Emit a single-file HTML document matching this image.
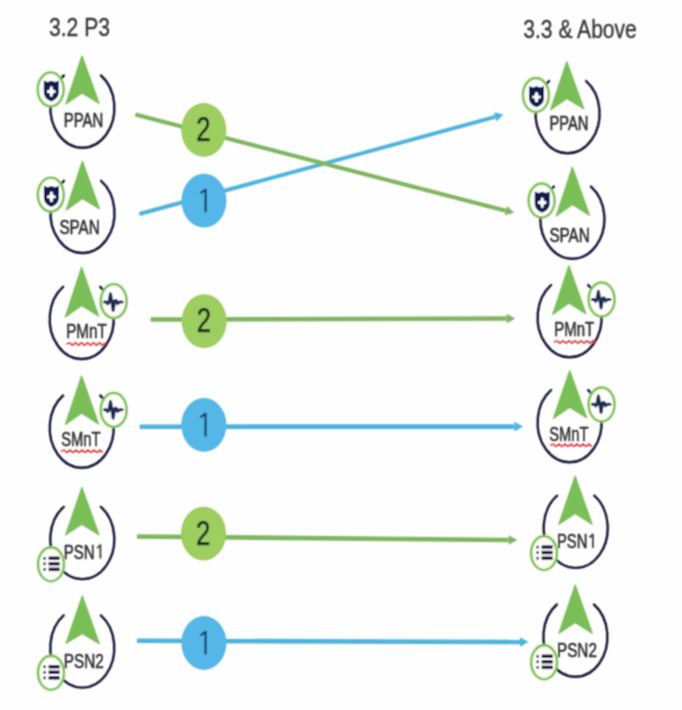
<!DOCTYPE html>
<html><head><meta charset="utf-8"><style>
html,body{margin:0;padding:0;background:#fff;width:682px;height:710px;overflow:hidden}
svg{display:block}
text{font-family:"Liberation Sans",sans-serif}
</style></head><body>
<svg width="682" height="710" viewBox="0 0 682 710">
<defs><filter id="bl" x="-5%" y="-5%" width="110%" height="110%"><feConvolveMatrix order="3" kernelMatrix="1 2 1 2 4 2 1 2 1" divisor="16" edgeMode="none" preserveAlpha="false"/></filter></defs>
<rect width="682" height="710" fill="#fefefe"/>
<g filter="url(#bl)">
<line x1="139.4" y1="214" x2="495.2" y2="116.8" stroke="#4fb3dc" stroke-width="3.9" stroke-linecap="butt"/><path d="M503.4,114.6 L496.5,121.5 L493.9,112.2 Z" fill="#4fb3dc"/><line x1="135.3" y1="114.6" x2="505.8" y2="210.7" stroke="#80b660" stroke-width="4.1" stroke-linecap="butt"/><path d="M514,212.8 L504.6,215.3 L507.0,206.0 Z" fill="#80b660"/><line x1="150.6" y1="319.5" x2="506.7" y2="318.5" stroke="#80b660" stroke-width="4.6" stroke-linecap="butt"/><path d="M515.2,318.5 L506.7,323.3 L506.7,313.7 Z" fill="#80b660"/><line x1="139.7" y1="426.7" x2="514.4" y2="426.6" stroke="#4fb3dc" stroke-width="4.6" stroke-linecap="butt"/><path d="M522.9,426.6 L514.4,431.4 L514.4,421.8 Z" fill="#4fb3dc"/><line x1="137" y1="536.5" x2="508.7" y2="540.0" stroke="#80b660" stroke-width="4.6" stroke-linecap="butt"/><path d="M517.2,540.1 L508.7,544.8 L508.7,535.2 Z" fill="#80b660"/><line x1="137" y1="640.8" x2="520.0" y2="642.0" stroke="#4fb3dc" stroke-width="4.6" stroke-linecap="butt"/><path d="M528.5,642 L520.0,646.8 L520.0,637.2 Z" fill="#4fb3dc"/><ellipse cx="203.8" cy="130" rx="22.5" ry="26.9" fill="#9ecd60"/><text x="203.50" y="140.90" font-size="35" fill="#1d3322" stroke="#1d3322" stroke-width="0.7" text-anchor="middle" textLength="14.30" lengthAdjust="spacingAndGlyphs">2</text><ellipse cx="204" cy="200.7" rx="22.5" ry="26.9" fill="#55b6e8"/><path d="M200.4,193.2 L205.6,189.5 V212.2" fill="none" stroke="#173a5a" stroke-width="2.1" stroke-linejoin="round"/><ellipse cx="204.2" cy="321.2" rx="22.5" ry="26.9" fill="#9ecd60"/><text x="203.90" y="332.10" font-size="35" fill="#1d3322" stroke="#1d3322" stroke-width="0.7" text-anchor="middle" textLength="14.30" lengthAdjust="spacingAndGlyphs">2</text><ellipse cx="203.9" cy="424.9" rx="22.5" ry="26.9" fill="#55b6e8"/><path d="M200.3,417.4 L205.5,413.7 V436.4" fill="none" stroke="#173a5a" stroke-width="2.1" stroke-linejoin="round"/><ellipse cx="203.5" cy="533.6" rx="22.5" ry="26.9" fill="#9ecd60"/><text x="203.20" y="544.50" font-size="35" fill="#1d3322" stroke="#1d3322" stroke-width="0.7" text-anchor="middle" textLength="14.30" lengthAdjust="spacingAndGlyphs">2</text><ellipse cx="203.9" cy="643" rx="22.5" ry="26.9" fill="#55b6e8"/><path d="M200.3,635.5 L205.5,631.8 V654.5" fill="none" stroke="#173a5a" stroke-width="2.1" stroke-linejoin="round"/><path d="M63.8,75.5 A32,39.8 0 1 0 101.0,75.5" fill="none" stroke="#17153a" stroke-width="2.4" stroke-linecap="round"/><path d="M82.0,56.0 L99.0,103.3 L82.0,93.0 L65.8,104.1 Z" fill="#7abe58" stroke="#7abe58" stroke-width="1.2" stroke-linejoin="round"/><ellipse cx="50.7" cy="89.4" rx="12.9" ry="16.9" fill="#fff" stroke="#80c456" stroke-width="2.6"/><path d="M43.8,80.4 L47.6,82.0 L51.3,80.7 L55.1,82.0 L58.8,80.4 L58.8,92.6 C58.8,97.5 54.3,100.5 51.3,101.5 C48.3,100.5 43.8,97.5 43.8,92.6 Z" fill="#0f1f4e"/><path d="M51.3,87.8 V95.2 M48.4,91.5 H54.2" stroke="#fff" stroke-width="3" stroke-linecap="round"/><text x="83.45" y="126.90" font-size="20" fill="#2f2f2f" stroke="#2f2f2f" stroke-width="0.55" text-anchor="middle" textLength="39.50" lengthAdjust="spacingAndGlyphs">PPAN</text><path d="M63.9,180.8 A32,39.8 0 1 0 101.1,180.8" fill="none" stroke="#17153a" stroke-width="2.4" stroke-linecap="round"/><path d="M82.4,161.3 L99.4,208.8 L82.4,198.6 L66.2,210.1 Z" fill="#7abe58" stroke="#7abe58" stroke-width="1.2" stroke-linejoin="round"/><ellipse cx="50.8" cy="194.7" rx="12.9" ry="16.9" fill="#fff" stroke="#80c456" stroke-width="2.6"/><path d="M43.9,185.7 L47.6,187.3 L51.4,186.0 L55.1,187.3 L58.9,185.7 L58.9,197.9 C58.9,202.8 54.4,205.8 51.4,206.8 C48.4,205.8 43.9,202.8 43.9,197.9 Z" fill="#0f1f4e"/><path d="M51.4,193.1 V200.5 M48.5,196.8 H54.3" stroke="#fff" stroke-width="3" stroke-linecap="round"/><text x="79.55" y="234.30" font-size="20" fill="#2f2f2f" stroke="#2f2f2f" stroke-width="0.55" text-anchor="middle" textLength="40.30" lengthAdjust="spacingAndGlyphs">SPAN</text><path d="M63.1,286.8 A32,39.8 0 1 0 100.3,286.8" fill="none" stroke="#17153a" stroke-width="2.4" stroke-linecap="round"/><path d="M81.6,267.3 L98.6,316.1 L81.6,305.5 L65.4,316.9 Z" fill="#7abe58" stroke="#7abe58" stroke-width="1.2" stroke-linejoin="round"/><ellipse cx="113.7" cy="301.2" rx="12.9" ry="16.9" fill="#fff" stroke="#80c456" stroke-width="2.6"/><path d="M104.5,302.0 L106.5,302.0 L107.7,303.8 L109.0,302.0 L110.5,293.8 L113.2,310.4 L114.8,300.4 L116.2,300.4 L117.7,303.6 L119.2,302.0 L122.1,302.0" fill="none" stroke="#1a2a55" stroke-width="3" stroke-linejoin="round" stroke-linecap="round"/><text x="86.55" y="337.80" font-size="20" fill="#2f2f2f" stroke="#2f2f2f" stroke-width="0.55" text-anchor="middle" textLength="40.70" lengthAdjust="spacingAndGlyphs">PMnT</text><path d="M66.5,344.0 L69.5,342.8 L72.5,345.2 L75.5,342.8 L78.5,345.2 L81.5,342.8 L84.5,345.2 L87.5,342.8 L90.5,345.2 L93.5,342.8 L96.5,345.2 L99.5,342.8 L102.5,345.2 L105.5,342.8" fill="none" stroke="#e04040" stroke-width="1.6"/><path d="M63.1,395.5 A32,39.8 0 1 0 100.3,395.5" fill="none" stroke="#17153a" stroke-width="2.4" stroke-linecap="round"/><path d="M81.6,376.0 L98.6,424.1 L81.6,413.0 L65.4,424.5 Z" fill="#7abe58" stroke="#7abe58" stroke-width="1.2" stroke-linejoin="round"/><ellipse cx="113.7" cy="409.9" rx="12.9" ry="16.9" fill="#fff" stroke="#80c456" stroke-width="2.6"/><path d="M104.5,409.8 L106.5,409.8 L107.7,411.6 L109.0,409.8 L110.5,401.6 L113.2,418.2 L114.8,408.2 L116.2,408.2 L117.7,411.4 L119.2,409.8 L122.1,409.8" fill="none" stroke="#1a2a55" stroke-width="3" stroke-linejoin="round" stroke-linecap="round"/><text x="80.85" y="446.20" font-size="20" fill="#2f2f2f" stroke="#2f2f2f" stroke-width="0.55" text-anchor="middle" textLength="39.30" lengthAdjust="spacingAndGlyphs">SMnT</text><path d="M61.0,451.3 L64.0,450.1 L67.0,452.5 L70.0,450.1 L73.0,452.5 L76.0,450.1 L79.0,452.5 L82.0,450.1 L85.0,452.5 L88.0,450.1 L91.0,452.5 L94.0,450.1 L97.0,452.5 L100.0,450.1 L103.0,452.5" fill="none" stroke="#e04040" stroke-width="1.6"/><path d="M63.7,506.9 A32,39.8 0 1 0 100.9,506.9" fill="none" stroke="#17153a" stroke-width="2.4" stroke-linecap="round"/><path d="M81.9,487.4 L98.9,534.8 L81.9,524.2 L65.7,534.8 Z" fill="#7abe58" stroke="#7abe58" stroke-width="1.2" stroke-linejoin="round"/><ellipse cx="51.0" cy="564.3" rx="12.9" ry="16.9" fill="#fff" stroke="#80c456" stroke-width="2.6"/><rect x="43.4" y="557.0" width="2.3" height="2.6" fill="#1a1f3a"/><rect x="48.6" y="556.5" width="11" height="3.5" fill="#1a1f3a"/><rect x="43.4" y="562.5" width="2.3" height="2.6" fill="#1a1f3a"/><rect x="48.6" y="562.0" width="11" height="3.5" fill="#1a1f3a"/><rect x="43.4" y="568.1" width="2.3" height="2.6" fill="#1a1f3a"/><rect x="48.6" y="567.6" width="11" height="3.5" fill="#1a1f3a"/><text x="63.80" y="558.50" font-size="20" fill="#2f2f2f" stroke="#2f2f2f" stroke-width="0.55" text-anchor="start" textLength="30.86" lengthAdjust="spacingAndGlyphs">PSN</text><path d="M97.0,548.0 Q99.4,546.6 100.4,544.6 V558.5" fill="none" stroke="#4a4a4a" stroke-width="1.9"/><path d="M63.7,615.4 A32,39.8 0 1 0 100.9,615.4" fill="none" stroke="#17153a" stroke-width="2.4" stroke-linecap="round"/><path d="M82.3,595.9 L99.3,643.7 L82.3,633.5 L66.1,643.3 Z" fill="#7abe58" stroke="#7abe58" stroke-width="1.2" stroke-linejoin="round"/><ellipse cx="51.0" cy="672.8" rx="12.9" ry="16.9" fill="#fff" stroke="#80c456" stroke-width="2.6"/><rect x="43.4" y="665.5" width="2.3" height="2.6" fill="#1a1f3a"/><rect x="48.6" y="665.0" width="11" height="3.5" fill="#1a1f3a"/><rect x="43.4" y="671.0" width="2.3" height="2.6" fill="#1a1f3a"/><rect x="48.6" y="670.5" width="11" height="3.5" fill="#1a1f3a"/><rect x="43.4" y="676.6" width="2.3" height="2.6" fill="#1a1f3a"/><rect x="48.6" y="676.1" width="11" height="3.5" fill="#1a1f3a"/><text x="83.80" y="667.50" font-size="20" fill="#2f2f2f" stroke="#2f2f2f" stroke-width="0.55" text-anchor="middle" textLength="40.00" lengthAdjust="spacingAndGlyphs">PSN2</text><path d="M549.0,81.1 A32,39.8 0 1 0 586.2,81.1" fill="none" stroke="#17153a" stroke-width="2.4" stroke-linecap="round"/><path d="M566.8,61.6 L583.8,108.8 L566.8,98.6 L550.6,109.7 Z" fill="#7abe58" stroke="#7abe58" stroke-width="1.2" stroke-linejoin="round"/><ellipse cx="535.9" cy="95.0" rx="12.9" ry="16.9" fill="#fff" stroke="#80c456" stroke-width="2.6"/><path d="M529.0,86.0 L532.8,87.6 L536.5,86.3 L540.3,87.6 L544.0,86.0 L544.0,98.2 C544.0,103.1 539.5,106.1 536.5,107.1 C533.5,106.1 529.0,103.1 529.0,98.2 Z" fill="#0f1f4e"/><path d="M536.5,93.4 V100.8 M533.6,97.1 H539.4" stroke="#fff" stroke-width="3" stroke-linecap="round"/><text x="568.85" y="130.00" font-size="20" fill="#2f2f2f" stroke="#2f2f2f" stroke-width="0.55" text-anchor="middle" textLength="38.90" lengthAdjust="spacingAndGlyphs">PPAN</text><path d="M553.8,186.6 A32,39.8 0 1 0 591.0,186.6" fill="none" stroke="#17153a" stroke-width="2.4" stroke-linecap="round"/><path d="M572.4,167.1 L589.4,215.3 L572.4,204.6 L556.2,216.1 Z" fill="#7abe58" stroke="#7abe58" stroke-width="1.2" stroke-linejoin="round"/><ellipse cx="541.6" cy="200.5" rx="12.9" ry="16.9" fill="#fff" stroke="#80c456" stroke-width="2.6"/><path d="M534.7,191.5 L538.5,193.1 L542.2,191.8 L546.0,193.1 L549.7,191.5 L549.7,203.7 C549.7,208.6 545.2,211.6 542.2,212.6 C539.2,211.6 534.7,208.6 534.7,203.7 Z" fill="#0f1f4e"/><path d="M542.2,198.9 V206.3 M539.3,202.6 H545.1" stroke="#fff" stroke-width="3" stroke-linecap="round"/><text x="569.55" y="241.80" font-size="20" fill="#2f2f2f" stroke="#2f2f2f" stroke-width="0.55" text-anchor="middle" textLength="40.30" lengthAdjust="spacingAndGlyphs">SPAN</text><path d="M551.0,285.1 A32,39.8 0 1 0 588.2,285.1" fill="none" stroke="#17153a" stroke-width="2.4" stroke-linecap="round"/><path d="M568.9,265.6 L585.9,313.7 L568.9,303.0 L552.7,314.5 Z" fill="#7abe58" stroke="#7abe58" stroke-width="1.2" stroke-linejoin="round"/><ellipse cx="601.6" cy="299.5" rx="12.9" ry="16.9" fill="#fff" stroke="#80c456" stroke-width="2.6"/><path d="M592.4,299.5 L594.4,299.5 L595.6,301.3 L596.9,299.5 L598.4,291.3 L601.1,307.9 L602.7,297.9 L604.1,297.9 L605.6,301.1 L607.1,299.5 L610.0,299.5" fill="none" stroke="#1a2a55" stroke-width="3" stroke-linejoin="round" stroke-linecap="round"/><text x="574.25" y="336.00" font-size="20" fill="#2f2f2f" stroke="#2f2f2f" stroke-width="0.55" text-anchor="middle" textLength="39.90" lengthAdjust="spacingAndGlyphs">PMnT</text><path d="M554.0,342.0 L557.0,340.8 L560.0,343.2 L563.0,340.8 L566.0,343.2 L569.0,340.8 L572.0,343.2 L575.0,340.8 L578.0,343.2 L581.0,340.8 L584.0,343.2 L587.0,340.8 L590.0,343.2 L593.0,340.8 L596.0,343.2" fill="none" stroke="#e04040" stroke-width="1.6"/><path d="M551.0,390.1 A32,39.8 0 1 0 588.2,390.1" fill="none" stroke="#17153a" stroke-width="2.4" stroke-linecap="round"/><path d="M569.7,370.6 L586.7,417.8 L569.7,407.2 L553.5,418.3 Z" fill="#7abe58" stroke="#7abe58" stroke-width="1.2" stroke-linejoin="round"/><ellipse cx="601.6" cy="404.5" rx="12.9" ry="16.9" fill="#fff" stroke="#80c456" stroke-width="2.6"/><path d="M592.4,404.2 L594.4,404.2 L595.6,406.0 L596.9,404.2 L598.4,396.0 L601.1,412.6 L602.7,402.6 L604.1,402.6 L605.6,405.8 L607.1,404.2 L610.0,404.2" fill="none" stroke="#1a2a55" stroke-width="3" stroke-linejoin="round" stroke-linecap="round"/><text x="568.85" y="440.60" font-size="20" fill="#2f2f2f" stroke="#2f2f2f" stroke-width="0.55" text-anchor="middle" textLength="39.10" lengthAdjust="spacingAndGlyphs">SMnT</text><path d="M550.0,445.3 L553.0,444.1 L556.0,446.5 L559.0,444.1 L562.0,446.5 L565.0,444.1 L568.0,446.5 L571.0,444.1 L574.0,446.5 L577.0,444.1 L580.0,446.5 L583.0,444.1 L586.0,446.5 L589.0,444.1 L592.0,446.5" fill="none" stroke="#e04040" stroke-width="1.6"/><path d="M557.1,495.7 A32,39.8 0 1 0 594.3,495.7" fill="none" stroke="#17153a" stroke-width="2.4" stroke-linecap="round"/><path d="M575.1,476.2 L592.1,524.3 L575.1,513.6 L558.9,524.3 Z" fill="#7abe58" stroke="#7abe58" stroke-width="1.2" stroke-linejoin="round"/><ellipse cx="544.0" cy="553.1" rx="12.9" ry="16.9" fill="#fff" stroke="#80c456" stroke-width="2.6"/><rect x="536.4" y="545.8" width="2.3" height="2.6" fill="#1a1f3a"/><rect x="541.6" y="545.3" width="11" height="3.5" fill="#1a1f3a"/><rect x="536.4" y="551.3" width="2.3" height="2.6" fill="#1a1f3a"/><rect x="541.6" y="550.8" width="11" height="3.5" fill="#1a1f3a"/><rect x="536.4" y="556.9" width="2.3" height="2.6" fill="#1a1f3a"/><rect x="541.6" y="556.4" width="11" height="3.5" fill="#1a1f3a"/><text x="557.00" y="547.90" font-size="20" fill="#2f2f2f" stroke="#2f2f2f" stroke-width="0.55" text-anchor="start" textLength="30.30" lengthAdjust="spacingAndGlyphs">PSN</text><path d="M589.5,537.4 Q591.9,536.0 592.9,534.0 V547.9" fill="none" stroke="#4a4a4a" stroke-width="1.9"/><path d="M556.8,604.5 A32,39.8 0 1 0 594.0,604.5" fill="none" stroke="#17153a" stroke-width="2.4" stroke-linecap="round"/><path d="M575.2,585.0 L592.2,633.3 L575.2,622.6 L559.0,633.3 Z" fill="#7abe58" stroke="#7abe58" stroke-width="1.2" stroke-linejoin="round"/><ellipse cx="544.1" cy="662.3" rx="12.9" ry="16.9" fill="#fff" stroke="#80c456" stroke-width="2.6"/><rect x="536.5" y="655.0" width="2.3" height="2.6" fill="#1a1f3a"/><rect x="541.7" y="654.5" width="11" height="3.5" fill="#1a1f3a"/><rect x="536.5" y="660.5" width="2.3" height="2.6" fill="#1a1f3a"/><rect x="541.7" y="660.0" width="11" height="3.5" fill="#1a1f3a"/><rect x="536.5" y="666.1" width="2.3" height="2.6" fill="#1a1f3a"/><rect x="541.7" y="665.6" width="11" height="3.5" fill="#1a1f3a"/><text x="576.95" y="656.90" font-size="20" fill="#2f2f2f" stroke="#2f2f2f" stroke-width="0.55" text-anchor="middle" textLength="39.90" lengthAdjust="spacingAndGlyphs">PSN2</text><text x="49.00" y="36.10" font-size="26" fill="#3a3a3a" stroke="#3a3a3a" stroke-width="0.4" text-anchor="start" textLength="61.00" lengthAdjust="spacingAndGlyphs">3.2 P3</text><text x="523.30" y="37.80" font-size="25.7" fill="#3a3a3a" stroke="#3a3a3a" stroke-width="0.4" text-anchor="start" textLength="113.50" lengthAdjust="spacingAndGlyphs">3.3 &amp; Above</text>
</g>
</svg>
</body></html>
